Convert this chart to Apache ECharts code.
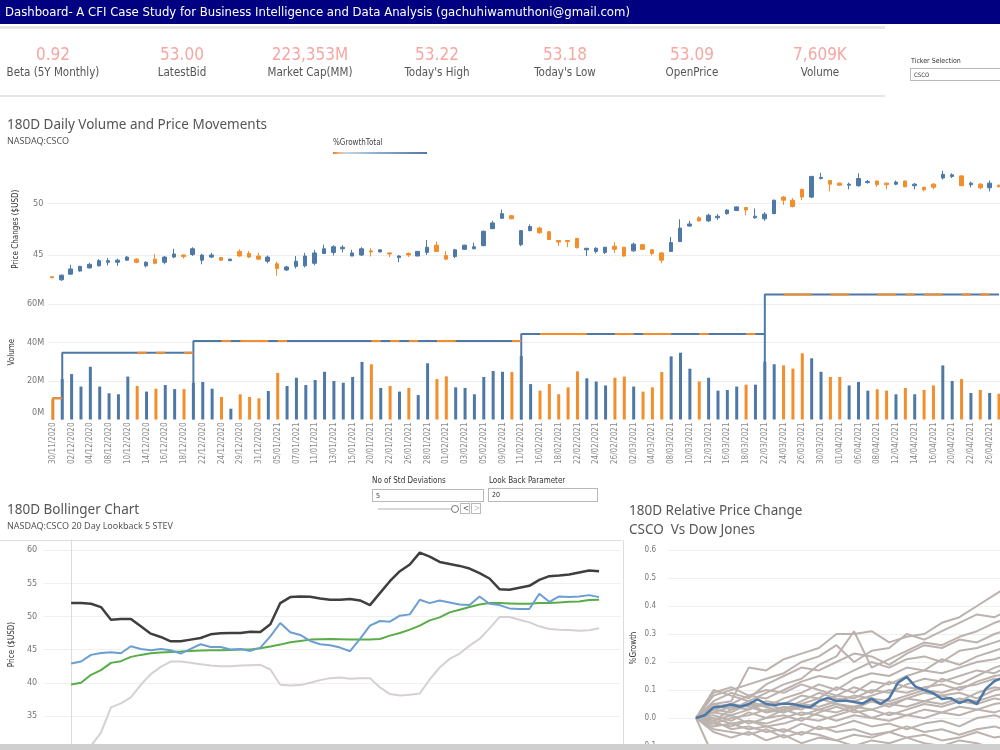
<!DOCTYPE html>
<html><head><meta charset="utf-8">
<script src="https://cdn.jsdelivr.net/npm/echarts@6/dist/echarts.min.js"></script>
<style>
html,body{margin:0;padding:0}
body{width:1000px;height:750px;overflow:hidden;background:#fff;position:relative;font-family:"Noto Sans",sans-serif}
#chart{position:absolute;left:0;top:0;width:1100px;height:750px}
.t{position:absolute;white-space:nowrap}
.cond{font-family:"DejaVu Sans Condensed","DejaVu Sans",sans-serif;font-stretch:condensed}
.kpi{position:absolute;width:128px;text-align:center;white-space:nowrap}
.kv{top:44px;font-size:17px;color:#f6a7a3;line-height:20px}
.kl{top:65px;font-size:11.5px;color:#555;line-height:14px}
.box{position:absolute;border:1px solid #b9b9b9;background:#fff;font-size:7px;color:#333;line-height:12px;padding-left:3px;box-sizing:border-box}
</style></head><body>
<div id="chart"></div>

<div class="t cond" style="left:0;top:0;width:1000px;height:24px;background:#000080"></div>
<div class="t cond" style="left:5px;top:3px;font-size:13px;line-height:18px;color:#fff">Dashboard- A CFI Case Study for Business Intelligence and Data Analysis (gachuhiwamuthoni@gmail.com)</div>
<div class="t" style="left:0;top:26px;width:885px;height:3px;background:#e6e6e6"></div>
<div class="t" style="left:0;top:95px;width:885px;height:2px;background:#e6e6e6"></div>

<div id="kpis"></div>

<div class="t cond" style="left:911px;top:56px;font-size:7px;line-height:10px;color:#333">Ticker Selection</div>
<div class="box cond" style="left:910px;top:68px;width:95px;height:13px;font-size:6px;line-height:11px">CSCO</div>

<div class="t" style="left:7px;top:115px;font-size:13.5px;line-height:18px;color:#555">180D Daily Volume and Price Movements</div>
<div class="t" style="left:7px;top:135px;font-size:9px;line-height:12px;color:#555">NASDAQ:CSCO</div>
<div class="t cond" style="left:333px;top:138px;font-size:8px;line-height:10px;color:#444">%GrowthTotal</div>
<div class="t" style="left:333px;top:152px;width:94px;height:2px;background:linear-gradient(90deg,#e8772a 0%,#f2b27a 6%,#c9d4df 14%,#8fb0cf 45%,#4e79a7 100%)"></div>

<div class="t cond" style="left:372px;top:476px;font-size:8px;line-height:10px;color:#333">No of Std Deviations</div>
<div class="box cond" style="left:372px;top:489px;width:112px;height:13px">5</div>
<div class="t" style="left:378px;top:508px;width:74px;height:2px;background:#d8d8d8"></div>
<div class="t" style="left:451px;top:505px;width:6px;height:6px;border:1px solid #777;border-radius:50%;background:#fff"></div>
<div class="box cond" style="left:460px;top:503px;width:10px;height:11px;font-size:8px;line-height:9px;padding-left:2px;color:#555">&lt;</div>
<div class="box cond" style="left:471px;top:503px;width:10px;height:11px;font-size:8px;line-height:9px;padding-left:2px;color:#bbb">&gt;</div>
<div class="t cond" style="left:489px;top:476px;font-size:8px;line-height:10px;color:#333">Look Back Parameter</div>
<div class="box cond" style="left:488px;top:488px;width:110px;height:14px">20</div>

<div class="t" style="left:7px;top:500px;font-size:13.5px;line-height:18px;color:#555">180D Bollinger Chart</div>
<div class="t" style="left:7px;top:520px;font-size:9px;line-height:12px;color:#555">NASDAQ:CSCO 20 Day Lookback 5 STEV</div>
<div class="t" style="left:0;top:540px;width:621px;height:1px;background:#dcdcdc"></div>

<div class="t" style="left:629px;top:501px;font-size:13.5px;line-height:18px;color:#555">180D Relative Price Change</div>
<div class="t" style="left:629px;top:520px;font-size:13.5px;line-height:18px;color:#555">CSCO&nbsp; Vs Dow Jones</div>
<div class="t" style="left:623px;top:540px;width:1px;height:205px;background:#dcdcdc"></div>

<div class="t" style="left:0;top:744px;width:1000px;height:6px;background:#cfcfcf"></div>

<script>
// ---------- KPI texts ----------
const kpiValues = ['0.92','53.00','223,353M','53.22','53.18','53.09','7,609K'];
const kpiLabels = ['Beta (5Y Monthly)','LatestBid','Market Cap(MM)',"Today's High","Today's Low",'OpenPrice','Volume'];

// ---------- Daily candles / volume (180D Daily Volume and Price Movements) ----------
const dates = ['30/11/2020',
 '01/12/2020','02/12/2020','03/12/2020','04/12/2020','07/12/2020','08/12/2020','09/12/2020','10/12/2020','11/12/2020','14/12/2020','15/12/2020','16/12/2020','17/12/2020','18/12/2020','21/12/2020','22/12/2020','23/12/2020','24/12/2020','28/12/2020','29/12/2020','30/12/2020','31/12/2020',
 '04/01/2021','05/01/2021','06/01/2021','07/01/2021','08/01/2021','11/01/2021','12/01/2021','13/01/2021','14/01/2021','15/01/2021','19/01/2021','20/01/2021','21/01/2021','22/01/2021','25/01/2021','26/01/2021','27/01/2021','28/01/2021','29/01/2021',
 '01/02/2021','02/02/2021','03/02/2021','04/02/2021','05/02/2021','08/02/2021','09/02/2021','10/02/2021','11/02/2021','12/02/2021','16/02/2021','17/02/2021','18/02/2021','19/02/2021','22/02/2021','23/02/2021','24/02/2021','25/02/2021','26/02/2021',
 '01/03/2021','02/03/2021','03/03/2021','04/03/2021','05/03/2021','08/03/2021','09/03/2021','10/03/2021','11/03/2021','12/03/2021','15/03/2021','16/03/2021','17/03/2021','18/03/2021','19/03/2021','22/03/2021','23/03/2021','24/03/2021','25/03/2021','26/03/2021','29/03/2021','30/03/2021','31/03/2021',
 '01/04/2021','05/04/2021','06/04/2021','07/04/2021','08/04/2021','09/04/2021','12/04/2021','13/04/2021','14/04/2021','15/04/2021','16/04/2021','19/04/2021','20/04/2021','21/04/2021','22/04/2021','23/04/2021','26/04/2021','27/04/2021'];

const priceOpen = [42.9,42.6,43.15,43.45,43.75,43.95,44.3,44.3,44.5,44.6,43.95,44.6,44.3,44.8,45.0,45.05,44.5,44.8,44.75,44.45,45.35,45.15,44.9,44.4,44.15,43.55,43.9,43.95,44.2,45.15,45.25,45.6,44.9,45.0,45.4,45.3,45.2,44.75,45.15,44.9,45.25,45.95,44.95,44.85,45.55,45.6,45.9,47.55,48.55,48.8,46.0,47.35,47.6,47.25,46.4,46.4,46.6,45.5,45.35,45.25,45.85,45.75,45.4,46.0,45.5,45.2,45.35,46.3,47.8,48.6,48.3,48.6,49.0,49.3,49.6,48.6,48.5,49.0,50.6,50.3,51.35,50.6,52.4,52.2,51.95,51.75,51.7,52.0,52.15,51.95,51.85,52.15,51.7,51.55,51.85,52.45,52.6,52.65,51.8,51.85,51.5,51.75];
const priceClose = [42.8,43.05,43.65,43.9,44.1,44.45,44.45,44.5,44.8,44.3,44.3,44.2,44.8,45.1,44.85,45.6,45.0,45.0,44.5,44.6,44.9,44.8,44.6,44.8,43.7,43.85,44.4,44.9,45.2,45.6,45.8,45.75,45.2,45.6,45.3,45.5,45.1,44.9,45.0,45.35,45.75,45.35,44.6,45.5,45.95,45.8,47.3,48.1,49.0,48.5,47.35,47.75,47.15,46.5,46.25,46.3,45.7,45.65,45.65,45.75,45.55,44.9,46.05,45.55,45.15,44.5,46.2,47.6,48.0,48.3,48.85,48.75,49.35,49.65,49.35,48.75,48.95,50.3,50.3,49.7,50.6,52.6,52.5,51.85,51.75,51.85,52.4,52.1,51.8,51.8,52.05,51.6,51.85,51.3,51.55,52.8,52.75,51.7,51.95,51.5,51.95,51.6];
const priceLow = [42.75,42.5,43.1,43.4,43.7,43.9,44.0,43.95,44.45,44.2,43.8,44.1,44.1,44.7,44.65,44.9,44.1,44.7,44.45,44.45,44.85,44.7,44.5,44.2,43.0,43.45,43.7,43.8,44.0,45.1,44.95,45.25,44.9,44.9,44.85,45.25,44.8,44.3,44.8,44.9,45.0,45.3,44.5,44.7,45.5,45.55,45.85,47.5,48.5,48.45,45.85,47.3,47.05,46.45,45.85,45.75,45.65,44.9,45.15,45.1,45.2,44.85,45.3,45.5,44.95,44.2,45.3,46.25,47.75,48.25,48.2,48.4,48.9,49.25,48.85,48.5,48.3,48.95,49.85,49.6,50.3,50.5,52.3,51.15,51.7,51.35,51.6,51.9,51.6,51.35,51.75,51.55,51.35,51.15,51.35,52.3,52.45,51.65,51.55,51.35,51.15,51.55];
const priceHigh = [42.95,43.1,44.05,43.95,44.25,44.6,44.7,44.65,44.9,44.7,44.4,45.1,44.9,45.6,45.05,45.75,45.1,45.2,44.8,44.65,45.55,45.4,45.2,44.95,44.35,43.95,44.9,45.2,45.5,46.0,45.95,45.95,45.5,45.75,45.65,45.5,45.25,45.0,45.25,45.4,46.45,46.3,45.4,45.6,46.0,46.2,47.35,48.3,49.4,48.85,47.4,47.95,47.75,47.3,46.4,46.45,46.6,45.65,45.75,45.8,46.25,45.8,46.2,46.05,45.6,45.3,46.75,48.45,48.3,48.75,49.0,48.95,49.4,49.7,49.6,49.5,49.15,50.35,50.7,50.5,51.4,52.65,52.95,52.25,52.0,52.0,52.9,52.25,52.2,52.0,52.2,52.2,51.95,51.6,51.95,53.15,52.9,52.7,52.1,51.95,52.2,51.8];
const volumeM = [10.5,21,23.6,17.1,27.4,17.1,13.6,13.1,22.3,17.4,14.5,16.0,17.9,15.8,15.8,19,19.5,16.0,11.7,5.6,13.1,11.7,11.0,14.8,24.2,17.4,21.7,17.9,20.5,24.8,20.0,19.1,22.1,29.9,28.7,16.4,17.4,14.5,16.4,12.7,29.2,21.0,22.4,16.7,16.4,13.1,22.1,25.2,24.8,24.7,33,18.4,15.0,18.4,13.1,16.7,25.0,21.4,19.7,17.7,21.7,22.3,17.1,14.5,16.7,24.7,32.8,34.7,26.4,19.7,21.7,15.0,15.3,17.1,18.1,18.1,30,28.7,28.1,26.4,34.4,31.8,24.8,22.1,22.1,17.7,19.5,15.0,15.7,15.0,13.1,16.4,13.1,15.3,17.7,28.1,20.0,21.0,13.8,15.3,13.8,13.4];
// %GrowthTotal step line: period start (date index) and level (M)
const stepStarts = [0,1,15,50,76];
const stepLevelsM = [11,34.7,40.8,44.4,65];
const priceTicks = [45,50];
const volumeTicks = [0,20,40,60];

// ---------- Bollinger (sampled along the 180D window) ----------
const bbUpper = [52.0,52.0,51.9,51.4,49.5,49.6,49.6,48.5,47.4,46.9,46.25,46.25,46.5,46.75,47.3,47.45,47.5,47.5,47.7,47.65,48.8,52.0,52.9,53.0,52.95,52.7,52.5,52.5,52.6,52.4,51.7,53.5,55.3,56.8,57.8,59.6,59.0,58.2,57.9,57.6,57.2,56.5,55.7,54.1,54.0,54.3,54.6,55.5,56.05,56.15,56.3,56.6,56.9,56.8];
const bbPrice = [42.9,43.2,44.2,44.5,44.6,44.45,45.5,45.1,44.9,45.1,44.9,44.4,45.1,45.8,45.4,45.4,45.0,45.1,44.8,45.3,47.0,49.0,47.6,47.2,46.3,45.8,45.65,45.3,44.75,46.6,48.6,49.3,49.2,50.1,50.3,52.5,52.0,52.4,52.1,51.8,51.7,53.0,51.9,51.7,51.2,51.1,51.1,53.4,52.2,53.0,52.9,53.0,53.2,52.9];
const bbMid = [39.75,40.0,41.2,41.9,43.0,43.25,43.9,44.2,44.45,44.55,44.65,44.7,44.8,44.85,44.9,44.9,44.95,45.0,45.0,45.2,45.45,45.75,46.1,46.3,46.5,46.55,46.6,46.55,46.5,46.5,46.5,46.6,47.1,47.5,48.0,48.6,49.4,49.85,50.6,51.0,51.4,51.8,52.0,52.0,51.95,51.9,51.9,52.0,52.0,52.1,52.2,52.25,52.45,52.5];
const bbLower = [27.5,28.0,30.5,32.5,36.3,36.9,37.8,39.7,41.3,42.4,43.2,43.2,43.0,42.8,42.6,42.5,42.5,42.6,42.65,42.7,42.0,39.7,39.6,39.65,40.0,40.4,40.7,40.8,40.6,40.7,40.7,39.3,38.3,38.1,38.2,38.4,40.5,42.3,43.6,44.4,45.6,46.6,48.2,49.9,49.9,49.5,49.1,48.5,48.1,48.0,47.95,47.85,47.9,48.2];
const bbSampleStep = 2.5; // trading days between samples

// ---------- Relative price change (CSCO vs Dow Jones members) ----------
const cscoGrowthStep = 2; // days between samples
const cscoGrowth = [0,0.01,0.038,0.041,0.048,0.04,0.049,0.067,0.05,0.046,0.052,0.05,0.043,0.038,0.06,0.072,0.061,0.062,0.057,0.052,0.069,0.05,0.07,0.126,0.147,0.112,0.1,0.089,0.068,0.071,0.053,0.065,0.05,0.104,0.132,0.145];
const dowGrowthStep = 4;
const dowGrowth = [
 [0,0.05,0.06,0.18,0.17,0.21,0.23,0.25,0.30,0.30,0.31,0.27,0.29,0.30,0.34,0.36,0.40,0.44,0.48,0.46],
 [0,0.08,0.10,0.12,0.14,0.16,0.20,0.22,0.26,0.20,0.24,0.25,0.30,0.28,0.31,0.34,0.37,0.36,0.39,0.41],
 [0,0.10,0.08,0.06,0.09,0.12,0.14,0.19,0.22,0.31,0.18,0.21,0.24,0.27,0.26,0.29,0.31,0.34,0.36,0.38],
 [0,0.06,0.09,0.07,0.12,0.15,0.18,0.17,0.20,0.23,0.22,0.19,0.23,0.26,0.25,0.28,0.27,0.30,0.32,0.33],
 [0,0.04,0.05,0.08,0.07,0.10,0.13,0.15,0.14,0.17,0.20,0.18,0.21,0.22,0.20,0.24,0.25,0.27,0.29,0.30],
 [0,0.03,0.02,0.05,0.04,0.07,0.09,0.12,0.10,0.14,0.16,0.15,0.18,0.17,0.21,0.19,0.22,0.24,0.26,0.27],
 [0,0.02,0.04,0.03,0.06,0.05,0.08,0.07,0.11,0.09,0.13,0.12,0.15,0.17,0.16,0.18,0.20,0.21,0.23,0.24],
 [0,-0.01,0.03,0.05,0.02,0.04,0.03,0.06,0.08,0.07,0.10,0.09,0.12,0.14,0.13,0.15,0.17,0.16,0.19,0.20],
 [0,0.02,0.01,0.03,0.05,0.03,0.06,0.09,0.07,0.06,0.08,0.10,0.09,0.11,0.12,0.10,0.13,0.15,0.16,0.17],
 [0,0.01,-0.01,0.02,0.00,0.03,0.05,0.04,0.06,0.08,0.07,0.06,0.08,0.10,0.09,0.11,0.12,0.14,0.13,0.15],
 [0,-0.02,0.00,0.01,0.03,0.02,0.04,0.03,0.05,0.04,0.06,0.05,0.07,0.06,0.08,0.09,0.07,0.10,0.11,0.12],
 [0,0.03,0.05,0.04,0.02,0.03,0.01,0.03,0.02,0.04,0.03,0.05,0.04,0.06,0.05,0.07,0.06,0.08,0.09,0.10],
 [0,-0.01,0.01,-0.02,0.00,0.01,-0.01,0.02,0.04,0.02,0.03,0.01,0.03,0.05,0.04,0.06,0.05,0.07,0.06,0.08],
 [0,0.00,-0.02,-0.01,-0.03,-0.02,0.00,-0.01,0.01,0.03,0.00,0.02,0.01,0.03,0.02,0.04,0.03,0.05,0.06,0.05],
 [0,-0.02,-0.03,-0.01,-0.02,0.00,0.02,0.01,-0.01,0.01,0.00,-0.01,0.01,0.00,0.02,0.01,0.03,0.02,0.04,0.03],
 [0,-0.03,-0.02,-0.04,-0.03,-0.05,-0.02,-0.04,-0.03,-0.01,-0.03,-0.02,-0.04,-0.02,-0.01,-0.03,0.00,0.01,-0.01,0.00],
 [0,-0.01,-0.04,-0.03,-0.05,-0.04,-0.06,-0.03,-0.05,-0.04,-0.06,-0.05,-0.03,-0.05,-0.04,-0.06,-0.04,-0.03,-0.05,-0.04],
 [0,-0.04,-0.05,-0.06,-0.04,-0.07,-0.05,-0.06,-0.08,-0.06,-0.07,-0.05,-0.07,-0.06,-0.08,-0.07,-0.05,-0.07,-0.06,-0.08],
 [0,-0.05,-0.07,-0.05,-0.08,-0.06,-0.09,-0.07,-0.08,-0.10,-0.08,-0.09,-0.07,-0.09,-0.10,-0.08,-0.09,-0.11,-0.09,-0.10],
 [0,-0.14,-0.13,-0.15,-0.12,-0.14,-0.13,-0.15,-0.14,-0.12,-0.13,-0.11,-0.13,-0.12,-0.14,-0.13,-0.12,-0.11,-0.13,-0.12],
 [0,0.09,0.11,0.08,0.10,0.09,0.12,0.10,0.08,0.11,0.09,0.13,0.11,0.10,0.14,0.12,0.15,0.18,0.20,0.22],
 [0,0.05,0.03,0.06,0.04,0.02,0.05,0.07,0.05,0.03,0.06,0.04,0.07,0.09,0.08,0.06,0.09,0.11,0.10,0.13]
];

// ---------- build ----------
const kp = document.getElementById('kpis');
const kpiCenters = [53,182,310,437,565,692,820];
kpiValues.forEach((v,i)=>{
  const a=document.createElement('div'); a.className='kpi kv cond'; a.style.left=(kpiCenters[i]-64)+'px'; a.textContent=v; kp.appendChild(a);
  const b=document.createElement('div'); b.className='kpi kl cond'; b.style.left=(kpiCenters[i]-64)+'px'; b.textContent=kpiLabels[i]; kp.appendChild(b);
});

const BLUE='#4e79a7', ORANGE='#f28e2b';
const n = dates.length;
const isDown = i => priceClose[i] < priceOpen[i];
const candleData = dates.map((d,i)=>[priceOpen[i],priceClose[i],priceLow[i],priceHigh[i]]);

const stepPts=[];
const periodOf = i => { let p=0; for(let k=0;k<stepStarts.length;k++) if(i>=stepStarts[k]) p=k; return p; };
stepStarts.forEach((s,p)=>{
  const e = p<stepStarts.length-1 ? stepStarts[p+1] : n-1;
  stepPts.push([s,0],[s,stepLevelsM[p]],[e,stepLevelsM[p]]);
});
const orangePts=[];
for(let i=0;i<n-1;i++){
  if(!isDown(i)) continue;
  const p=periodOf(i), L=stepLevelsM[p];
  if(i===stepStarts[p]) orangePts.push([i,0]);
  orangePts.push([i,L],[i+1,L],[i+1,'-']);
}

const condFont='DejaVu Sans Condensed';
const chart = echarts.init(document.getElementById('chart'));
const bbSeries = (arr,color,w)=>({type:'line',xAxisIndex:2,yAxisIndex:2,symbol:'none',silent:true,
  data:arr.map((v,i)=>[i*bbSampleStep,v]),lineStyle:{color:color,width:w},clip:true});

const series=[
  {type:'candlestick',xAxisIndex:0,yAxisIndex:0,barWidth:4,data:candleData,
   itemStyle:{color:BLUE,color0:ORANGE,borderColor:BLUE,borderColor0:ORANGE,borderWidth:1}},
  {type:'bar',xAxisIndex:1,yAxisIndex:1,barWidth:3,data:volumeM,
   itemStyle:{color:p=>isDown(p.dataIndex)?ORANGE:BLUE}},
  {type:'line',xAxisIndex:1,yAxisIndex:1,symbol:'none',data:stepPts,lineStyle:{color:BLUE,width:2}},
  {type:'line',xAxisIndex:1,yAxisIndex:1,symbol:'none',data:orangePts,connectNulls:false,lineStyle:{color:ORANGE,width:2}},
  bbSeries(bbLower,'#d6d1d0',2),
  bbSeries(bbUpper,'#3f3f3f',2.5),
  bbSeries(bbMid,'#58ad47',2),
  bbSeries(bbPrice,'#6b9fd2',2)
];
dowGrowth.forEach(arr=>series.push({type:'line',xAxisIndex:3,yAxisIndex:3,symbol:'none',silent:true,
  data:arr.map((v,i)=>[i*dowGrowthStep,v]),lineStyle:{color:'#bcb2ae',width:2}}));
series.push({type:'line',xAxisIndex:3,yAxisIndex:3,symbol:'none',
  data:cscoGrowth.map((v,i)=>[i*cscoGrowthStep,v]),lineStyle:{color:BLUE,width:2.5},z:5});

const axLbl = {color:'#777',fontSize:9,fontFamily:condFont};
const nameStyle = {color:'#333',fontSize:8,fontFamily:condFont};
const hiddenX = (grid,type,extra)=>Object.assign({type:type,gridIndex:grid,show:false,splitLine:{show:false}},extra||{});

chart.setOption({
  animation:false,
  grid:[
    {left:47.3,width:956.4,top:151.6,height:155.1},
    {left:47.3,width:956.4,top:284.75,height:134.75},
    {left:41,width:580,top:540,height:209.2},
    {left:668,width:379.2,top:550,height:197.2}
  ],
  xAxis:[
    hiddenX(0,'category',{data:dates}),
    {type:'category',gridIndex:1,data:dates,axisLine:{show:false},axisTick:{show:false},
     axisLabel:{rotate:90,interval:1,fontSize:8,color:'#8a8a8a',fontFamily:condFont,margin:3}},
    hiddenX(2,'value',{min:-2.8*bbSampleStep,max:55.2*bbSampleStep}),
    hiddenX(3,'value',{min:-6.38,max:80})
  ],
  yAxis:[
    {type:'value',gridIndex:0,min:40,max:55,interval:5,axisLine:{show:false},axisTick:{show:false},
     axisLabel:Object.assign({margin:4,customValues:priceTicks},axLbl),
     splitLine:{lineStyle:{color:'#eeeeee'},showMinLine:false,showMaxLine:false},
     name:'Price Changes ($USD)',nameLocation:'middle',nameGap:27,nameTextStyle:nameStyle},
    {type:'value',gridIndex:1,min:0,max:70,interval:20,axisLine:{show:false},axisTick:{show:false},
     axisLabel:Object.assign({margin:4,customValues:volumeTicks,
       formatter:v=>v===0?'{z|0M}':v+'M',
       rich:{z:{color:'#777',fontSize:9,fontFamily:condFont,padding:[0,0,14,0]}}},axLbl),
     splitLine:{lineStyle:{color:'#eeeeee'},showMinLine:false,showMaxLine:false},
     name:'Volume',nameLocation:'middle',nameGap:30,nameTextStyle:nameStyle},
    {type:'value',gridIndex:2,min:30,max:61.5,interval:5,axisLine:{show:true,lineStyle:{color:'#dcdcdc'}},axisTick:{show:false},
     axisLabel:Object.assign({margin:6,showMaxLabel:false,showMinLabel:false},axLbl),
     splitLine:{lineStyle:{color:'#f0f0f0'},showMaxLine:false},
     name:'Price ($USD)',nameLocation:'middle',nameGap:24,nameTextStyle:nameStyle},
    {type:'value',gridIndex:3,min:-0.1,max:0.6,interval:0.1,axisLine:{show:false},axisTick:{show:false},
     axisLabel:Object.assign({margin:12,formatter:v=>v.toFixed(1)},axLbl,{fontSize:8}),
     splitLine:{lineStyle:{color:'#f0f0f0'}},
     name:'%Growth',nameLocation:'middle',nameGap:28,nameTextStyle:nameStyle}
  ],
  series:series
});
</script>
</body></html>
